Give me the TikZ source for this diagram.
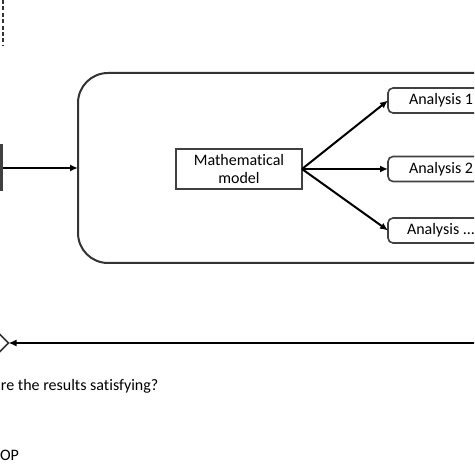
\documentclass[tikz,border=0pt]{standalone}
\usepackage{fontspec}
\setmainfont{Carlito}[Ligatures=NoCommon]
\usetikzlibrary{positioning,shapes.geometric,arrows.meta}

\begin{document}
\begin{tikzpicture}[x=0.5pt,y=-0.5pt,
  font=\fontsize{8}{8.75}\selectfont,
  every node/.style={inner sep=0pt, outer sep=0pt},
  flow/.style={draw=black, line width=1pt, -{Latex[length=4pt,width=3.5pt]}},
  plainbox/.style={draw=black!75, line width=0.8pt, fill=white, minimum width=63pt,
    minimum height=20pt, align=center},
  resultbox/.style={draw=black!75, line width=0.8pt, fill=white, rounded corners=2.5pt,
    minimum width=53pt, minimum height=12.5pt}]
  \clip (0,0) rectangle (474,474);
  \coordinate (dashtop) at (3,0);
  \coordinate (dashbot) at (3,45);
  \draw[black!80, line width=1.1pt, dash pattern=on 2pt off 1.2pt] (dashtop) -- (dashbot);
  \node[fill=black!75, minimum width=3pt, minimum height=23.5pt] (fork) at (0,168) {};
  \node[draw=black!80, line width=1pt, rounded corners=15pt, minimum width=241pt,
    minimum height=95pt] (simulation) at (319,168) {};
  \node[plainbox] (model) at (239,169) {Mathematical\\model};
  \node[resultbox] (analysisa) at (441,100.5) {Analysis 1};
  \node[resultbox] (analysisb) at (441,169) {Analysis 2};
  \node[resultbox] (analysisc) at (441,230.5) {Analysis ...};
  \node[draw=black!80, fill=white, line width=0.8pt, shape=diamond,
    minimum size=8.5pt] (check) at (0,343) {};
  \coordinate (backin) at (480,343);
  \node[anchor=west] (question) at (1,386) {re the results satisfying?};
  \node[anchor=west] (halt) at (0,455) {OP};
  \draw[flow] (fork.east) -- (simulation.west);
  \draw[flow] (model.east) -- (analysisa.west);
  \draw[flow] (model.east) -- (analysisb.west);
  \draw[flow] (model.east) -- (analysisc.west);
  \draw[flow] (backin) -- (check.east);
\end{tikzpicture}
\end{document}
